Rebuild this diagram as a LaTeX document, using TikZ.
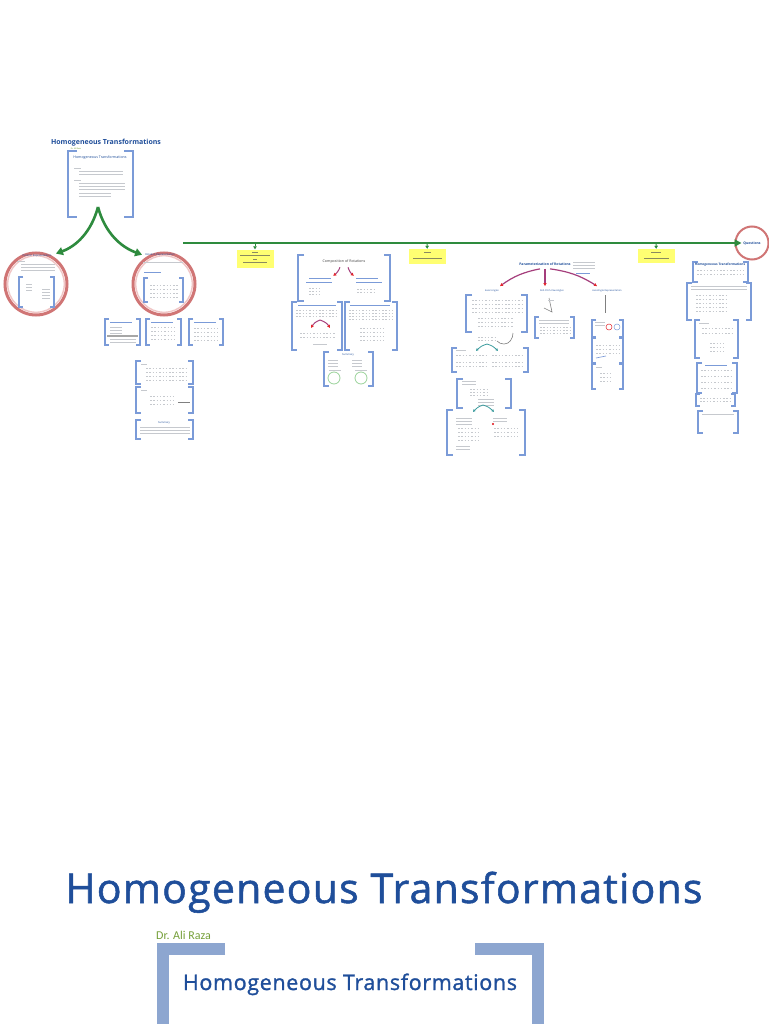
\documentclass[tikz,border=0pt]{standalone}
\usepackage{fontspec}
\setmainfont{Open Sans}
\newfontfamily\ttlfont{Open Sans}[FakeBold=1.3, LetterSpace=3]
\newfontfamily\drfont{Carlito}
\usetikzlibrary{arrows.meta}
\definecolor{ttlblue}{HTML}{1F4E9A}
\definecolor{brkblue}{HTML}{7B9BD8}
\definecolor{bigblue}{HTML}{8DA6D0}
\definecolor{txtgray}{HTML}{C6C9CE}
\definecolor{notegray}{HTML}{8A8A60}
\definecolor{ringred}{HTML}{D07575}
\definecolor{ringpink}{HTML}{F0C6C6}
\definecolor{arrgreen}{HTML}{2E8B3E}
\definecolor{noteyellow}{HTML}{FFFF72}
\definecolor{drgreen}{HTML}{76A03A}
\definecolor{plum}{HTML}{A53E7C}
\definecolor{tipred}{HTML}{E3262E}
\definecolor{arrteal}{HTML}{3C9C9E}
\definecolor{sumgreen}{HTML}{9AD39A}

% bracket frame: [cap]{x1}{y1}{x2}{y2}
\newcommand{\frm}[5][5]{%
  \draw[brk] ({#2+#1},#3) -- (#2,#3) -- (#2,#5) -- ({#2+#1},#5);
  \draw[brk] ({#4-#1},#3) -- (#4,#3) -- (#4,#5) -- ({#4-#1},#5);}
% rows of small text: [colour]{x}{y}{length}{rows}
\newcommand{\tlines}[5][txtgray]{%
  \foreach \k in {1,...,#5}{\draw[txt, draw=#1] (#2,{#3+3*(\k-1)}) -- ++(#4,0);}}

\begin{document}
\begin{tikzpicture}[x=1pt, y=-1pt,
  brk/.style={draw=brkblue, line width=1.1pt},
  txt/.style={line width=0.6pt},
  sym/.style={draw=txtgray, line width=0.6pt, dash pattern=on 1.5pt off 1.8pt},
  ring/.style={circle, draw=ringred, line width=3pt, minimum size=62pt, inner sep=0pt},
  note/.style={fill=noteyellow, inner sep=0pt},
  lbl/.style={text=ttlblue, font=\fontsize{2.6}{3}\selectfont, inner sep=0.5pt},
  grarr/.style={draw=arrgreen, line width=2.6pt, -{Triangle[length=7pt, width=8pt]}},
  grline/.style={draw=arrgreen, line width=1.8pt, -{Triangle[length=7pt, width=7pt]}},
  grdown/.style={draw=arrgreen, line width=0.9pt, -{Triangle[length=3pt, width=3.5pt]}},
  plarr/.style={draw=plum, line width=1pt, -{Triangle[length=3pt, width=3pt, color=tipred]}},
  tlarr/.style={draw=arrteal, line width=0.8pt, -{Triangle[length=2.5pt, width=2.5pt]}}]

\useasboundingbox[fill=white] (0,0) rectangle (768,1024);

% overview frame
\node[font=\bfseries\fontsize{7}{8}\selectfont, text=ttlblue] (ovt) at (106,143) {Homogeneous Transformations};
\begin{scope}[brk/.style={draw=brkblue, line width=2.4pt}]
\frm[9]{68}{151}{133}{217}
\end{scope}
\node[font=\drfont\fontsize{2.2}{2.5}\selectfont, text=drgreen, inner sep=0] (dr1) at (76,149) {Dr. Ali Raza};
\node[lbl, font=\fontsize{3.6}{4}\selectfont] (ht1) at (100,158) {Homogeneous Transformations};
\tlines{74}{168}{7}{1}
\tlines{79}{171}{44}{2}
\tlines{74}{180}{7}{1}
\tlines{79}{183}{46}{3}
\tlines{79}{193}{32}{2}
\coordinate (apx) at (98,207);

% circles
\node[ring] (pos) at (36,284) {};
\node[ring] (rot) at (164,284) {};
\draw[ringpink, line width=1.4pt] (pos) circle (28.3pt);
\draw[ringpink, line width=1.4pt] (rot) circle (28.3pt);
\node[lbl] (post) at (37,256) {Position Representation};
\node[lbl] (rott) at (160,255) {Rotation Representation};
\tlines{17}{261}{8}{1}
\tlines{21}{264}{34}{3}
\frm[4]{19}{277}{54}{307}
\tlines{26}{284}{6}{3}
\tlines{42}{289}{8}{4}
\tlines{143}{262}{40}{1}
\draw[txt, draw=brkblue] (144,272) -- ++(17,0);
\frm[4]{144}{278}{183}{302}
\foreach \r in {285,289,293,297} \draw[sym] (150,\r) -- ++(28,0);

\draw[grarr, shorten >=5pt] (apx) to[out=-105, in=20] (pos.62);
\draw[grarr, shorten >=5pt] (apx) to[out=-75, in=160] (rot.122);

% lower left frames
\frm[4]{105}{319}{140}{345}
\frm[4]{146}{319}{181}{345}
\frm[4]{189}{319}{223}{345}
\tlines[brkblue]{110}{322}{22}{1}
\tlines{110}{327}{12}{3}
\draw[line width=1.2pt, draw=gray!70] (107,336) -- (138,336);
\tlines{110}{339}{26}{2}
\tlines[brkblue]{151}{322}{22}{1}
\foreach \r in {327,331,335,339} \draw[sym] (151,\r) -- ++(24,0);
\tlines[brkblue]{194}{322}{22}{1}
\foreach \r in {328,332,336,340} \draw[sym] (194,\r) -- ++(24,0);
\frm[5]{136}{361}{193}{384}
\tlines{141}{364}{6}{1}
\foreach \r in {368,372,376,380} \draw[sym] (146,\r) -- ++(42,0);
\frm[5]{136}{387}{193}{413}
\tlines{141}{390}{6}{1}
\foreach \r in {396,400,404} \draw[sym] (150,\r) -- ++(24,0);
\draw[txt, draw=gray] (178,402) -- (190,402);
\frm[5]{136}{420}{193}{439}
\node[lbl] (sum2) at (164,422.5) {Summary};
\tlines{140}{427}{50}{3}

% timeline
\coordinate (gl) at (183,243);
\node[ring, minimum size=33pt, line width=2pt, text=ttlblue, font=\bfseries\fontsize{3.4}{4}\selectfont] (qst) at (752,243) {Questions};
\draw[grline, shorten >=-7pt] (gl) -- (qst);
\coordinate (g1) at (255,243);
\coordinate (g2) at (427,243);
\coordinate (g3) at (656,243);
\node[note, minimum width=37pt, minimum height=18pt] (n1) at (255,258.5) {};
\node[note, minimum width=37pt, minimum height=15pt] (n2) at (427.5,256.5) {};
\node[note, minimum width=37pt, minimum height=14pt] (n3) at (656.5,256) {};
\draw[grdown] (g1) -- (n1);
\draw[grdown] (g2) -- (n2);
\draw[grdown] (g3) -- (n3);
\tlines[notegray]{252}{252.5}{6}{1}
\tlines[notegray]{240}{255.5}{30}{1}
\tlines[notegray]{253}{259.5}{4}{1}
\tlines[notegray]{243}{262.5}{24}{1}
\tlines[notegray]{424}{252.5}{7}{1}
\tlines[notegray]{413}{258}{29}{1}
\tlines[notegray]{651}{252}{10}{1}
\tlines[notegray]{644}{258}{25}{1}

% composition of rotations
\frm[6]{298}{255}{390}{301}
\node[font=\fontsize{3.6}{4}\selectfont, text=black!75] (comp) at (344,262) {Composition of Rotations};
\node[inner sep=0, minimum width=26pt, minimum height=8pt] (cl) at (320,280) {};
\node[inner sep=0, minimum width=26pt, minimum height=8pt] (cr) at (367,280) {};
\draw[plarr] ([xshift=-4pt]comp.south) to[bend left=15] (cl.north east);
\draw[plarr] ([xshift=4pt]comp.south) to[bend right=15] (cr.north west);
\tlines[brkblue]{309}{278}{22}{1}
\tlines[brkblue]{306}{282}{26}{1}
\tlines[brkblue]{356}{278}{22}{1}
\tlines[brkblue]{356}{282}{26}{1}
\foreach \r in {288,291,294} \draw[sym] (309,\r) -- ++(10,0);
\foreach \r in {289,292} \draw[sym] (357,\r) -- ++(18,0);
\frm[5]{292}{302}{342}{350}
\frm[5]{345}{302}{397}{350}
\tlines[brkblue]{298}{305}{38}{1}
\tlines[brkblue]{350}{305}{40}{1}
\foreach \r in {310,313,316} \draw[sym] (296,\r) -- ++(42,0);
\foreach \r in {310,313,316,319} \draw[sym] (349,\r) -- ++(44,0);
\coordinate (c0) at (320,320);
\coordinate (c1) at (311,328);
\coordinate (c2) at (330,328);
\draw[plarr] (c0) to[bend right=20] (c1);
\draw[plarr] (c0) to[bend left=20] (c2);
\foreach \r in {333,337} \draw[sym] (300,\r) -- ++(36,0);
\tlines{313}{344}{14}{1}
\foreach \r in {328,332,336,340} \draw[sym] (360,\r) -- ++(24,0);
\frm[5]{324}{352}{373}{386}
\node[lbl] (sum1) at (348,354.5) {Summary}; 
\tlines{328}{360}{10}{3}
\tlines{352}{360}{10}{3}
\tlines{329}{370}{12}{1}
\tlines{355}{370}{12}{1}
\draw[sumgreen, line width=0.8pt] (334,378) circle (6pt);
\draw[sumgreen, line width=0.8pt] (361,378) circle (6pt);

% parameterization of rotations
\node[font=\bfseries\fontsize{3.4}{4}\selectfont, text=ttlblue] (par) at (545,264) {Parameterization of Rotations};
\tlines{573}{262}{22}{3}
\tlines[brkblue]{576}{273}{14}{1}
\node[lbl, font=\fontsize{2.4}{3}\selectfont] (ea) at (492,291) {Euler Angles};
\node[lbl, font=\fontsize{2.4}{3}\selectfont] (rpy) at (552,291) {Roll-Pitch-Yaw Angles};
\node[lbl, font=\fontsize{2.4}{3}\selectfont] (aa) at (607,291) {Axis/Angle Representation};
\draw[plarr, line width=1.2pt] ([xshift=-5pt]par.south) to[bend right=12] ([shift={(8pt,3pt)}]ea.north);
\draw[plarr, line width=1.2pt] (par.south) -- ([yshift=3pt]rpy.north -| par.south);
\draw[plarr, line width=1.2pt] ([xshift=5pt]par.south) to[bend left=12] ([shift={(-10pt,3pt)}]aa.north);
\frm[6]{466}{295}{527}{332}
\foreach \r in {300,304,308,312} \draw[sym] (472,\r) -- ++(50,0);
\foreach \r in {318,322,326} \draw[sym] (478,\r) -- ++(36,0);
\foreach \r in {337,340} \draw[sym] (478,\r) -- ++(18,0);
\draw[txt, draw=gray] (513,333) to[out=-90, in=0] (504,344) to[out=180, in=-45] (497,341);
\coordinate (e0) at (487,344);
\coordinate (e1) at (476,351);
\coordinate (e2) at (498,351);
\draw[tlarr] (e0) to[bend right=15] (e1);
\draw[tlarr] (e0) to[bend left=15] (e2);
\frm[5]{452}{348}{528}{372}
\tlines{456}{350}{10}{1}
\foreach \r in {355,362,366} \draw[sym] (456,\r) -- ++(30,0);
\foreach \r in {355,362,366} \draw[sym] (492,\r) -- ++(30,0);
\frm[6]{457}{379}{511}{408}
\tlines{462}{381}{14}{2}
\foreach \r in {389,392,395} \draw[sym] (470,\r) -- ++(18,0);
\tlines{478}{399}{16}{3}
\coordinate (i0) at (483,405);
\coordinate (i1) at (473,412);
\coordinate (i2) at (494,412);
\draw[tlarr] (i0) to[bend right=15] (i1);
\draw[tlarr] (i0) to[bend left=15] (i2);
\frm[6]{447}{410}{525}{455}
\tlines{456}{418}{16}{3}
\foreach \r in {428,432,436,440} \draw[sym] (458,\r) -- ++(20,0);
\tlines{456}{446}{14}{2}
\tlines{493}{418}{14}{2}
\foreach \r in {428,432,436} \draw[sym] (494,\r) -- ++(24,0);
\draw[tipred, fill=tipred] (493,424) circle (0.8pt);
\draw[txt, draw=gray] (549,298) -- (552,312) -- (544,308);
\tlines{548}{300}{6}{1}
\frm[4]{535}{317}{574}{338}
\tlines{539}{320}{30}{2}
\foreach \r in {327,330,333} \draw[sym] (540,\r) -- ++(30,0);
\draw[txt, draw=gray] (605,295) -- (605,313);
\frm[4]{592}{320}{623}{337}
\frm[4]{592}{338}{623}{363}
\frm[4]{592}{364}{623}{389}
\draw[tipred, line width=0.5pt] (609,327) circle (3pt);
\tlines{595}{322}{10}{2}
\draw[brkblue, line width=0.5pt] (617,327) circle (3pt);
\foreach \r in {345,349,353} \draw[sym] (596,\r) -- ++(24,0);
\draw[brkblue, line width=0.6pt] (596,358) -- (606,356);
\tlines{596}{367}{6}{1}
\foreach \r in {373,377,381} \draw[sym] (600,\r) -- ++(12,0);

% right column
\frm[5]{693}{262}{748}{282}
\node[lbl, font=\bfseries\fontsize{3.2}{4}\selectfont] (ht2) at (720,264.5) {Homogeneous Transformations};
\foreach \r in {270,274} \draw[sym] (697,\r) -- ++(47,0);
\frm[5]{687}{283}{751}{320}
\tlines{691}{286}{56}{2}
\foreach \r in {295,299,303,307,311} \draw[sym] (696,\r) -- ++(30,0);
\frm[5]{695}{320}{738}{358}
\tlines{699}{323}{10}{1}
\foreach \r in {328,333} \draw[sym] (702,\r) -- ++(30,0);
\foreach \r in {343,347,351} \draw[sym] (710,\r) -- ++(14,0);
\frm[5]{697}{363}{737}{393}
\tlines[brkblue]{705}{365}{22}{1}
\foreach \r in {370,376,382,388} \draw[sym] (701,\r) -- ++(32,0);
\frm[4]{696}{394}{735}{406}
\foreach \r in {398,401} \draw[sym] (700,\r) -- ++(31,0);
\frm[5]{698}{411}{738}{433}
\tlines{702}{414}{32}{1}

% title
\node[anchor=base, text=ttlblue, font=\ttlfont\fontsize{41}{48}\selectfont] (big) at (384,903) {Homogeneous Transformations};
\node[anchor=base west, text=drgreen, font=\drfont\fontsize{12}{14}\selectfont, inner sep=0] (dr) at (156,939) {Dr. Ali Raza};
\draw[bigblue, line width=12pt] (225,949) -| (163,1030);
\draw[bigblue, line width=12pt] (475,949) -| (538,1030);
\node[anchor=base, text=ttlblue, font=\ttlfont\fontsize{21.5}{24}\selectfont] (sub) at (350,990) {Homogeneous Transformations};
\end{tikzpicture}
\end{document}
